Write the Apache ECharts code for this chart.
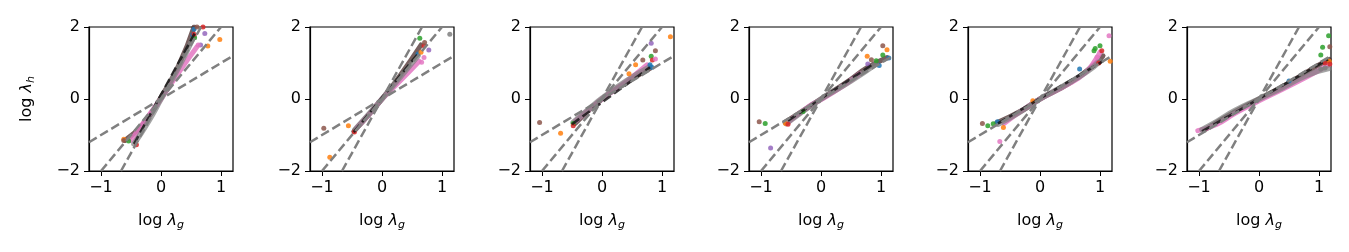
<!DOCTYPE html>
<html>
<head>
<meta charset="utf-8">
<script src="https://cdn.jsdelivr.net/npm/echarts@6/dist/echarts.min.js"></script>
<style>
  html, body { margin: 0; padding: 0; background: #fff; }
  #chart { width: 1349px; height: 252px; }
</style>
</head>
<body>
<div id="chart"></div>
<script>
// tick labels
const xTicks = [-1, 0, 1];
const yTicks = [-2, 0, 2];

// dashed reference lines, slopes 1, 2, 3 through the origin
const refSlope1 = [[-1.2, -1.2], [1.2, 1.2]];
const refSlope2 = [[-1, -2], [1, 2]];
const refSlope3 = [[-0.667, -2], [0.667, 2]];

// dense bands (one entry per panel)
const pinkBand = [
  [[-0.5, -1.15], [-0.2, -0.45], [0, 0], [0.3, 0.75], [0.6, 1.45]],
  [[-0.42, -0.8], [-0.2, -0.4], [0, 0], [0.3, 0.5], [0.62, 1.05]],
  [[-0.45, -0.62], [0, 0], [0.4, 0.48], [0.75, 0.95]],
  [[-0.55, -0.65], [-0.2, -0.2], [0, -0.02], [0.4, 0.4], [0.65, 0.7]],
  [[-0.6, -0.68], [-0.3, -0.32], [0, 0], [0.4, 0.35], [0.75, 0.72], [0.95, 1.15], [1.0, 1.3]],
  [[-1.02, -0.88], [-0.7, -0.7], [-0.4, -0.4], [0, -0.05], [0.4, 0.28], [0.8, 0.62], [1.17, 0.95]]
];
const grayBand = [
  [[-0.45, -1.25], [-0.2, -0.6], [0, 0], [0.3, 0.9], [0.55, 1.75]],
  [[-0.45, -0.85], [0, 0], [0.3, 0.6], [0.6, 1.2]],
  [[-0.48, -0.65], [-0.2, -0.25], [0, 0.02], [0.4, 0.5], [0.8, 0.9]],
  [[-0.58, -0.68], [0, 0], [0.5, 0.5], [0.9, 0.95]],
  [[-0.7, -0.7], [-0.35, -0.38], [0, 0], [0.4, 0.37], [0.8, 0.78], [1.0, 1.05]],
  [[-0.95, -0.85], [-0.7, -0.62], [-0.4, -0.32], [0, 0], [0.4, 0.32], [0.8, 0.66], [1.17, 0.85]]
];
const darkBand = [
  [[-0.6, -1.15], [-0.3, -0.7], [0, 0.05], [0.3, 0.95], [0.55, 2.0]],
  [[-0.47, -0.9], [-0.2, -0.4], [0, 0], [0.3, 0.65], [0.65, 1.5]],
  [[-0.45, -0.68], [0, 0], [0.4, 0.45], [0.8, 0.85]],
  [[-0.6, -0.65], [0, 0], [0.5, 0.55], [0.75, 0.85], [1.1, 1.15]],
  [[-0.72, -0.66], [-0.3, -0.32], [0, 0], [0.5, 0.45], [0.9, 0.95], [1.05, 1.2]],
  [[-0.9, -0.85], [-0.4, -0.35], [0, 0], [0.5, 0.45], [1.0, 0.95], [1.17, 1.1]]
];
const fitLine = [
  [[-0.45, -1.25], [0.57, 1.85]],
  [[-0.47, -0.92], [0.62, 1.3]],
  [[-0.5, -0.7], [0.8, 0.88]],
  [[-0.55, -0.6], [0.85, 0.95]],
  [[-0.7, -0.68], [1.05, 1.05]],
  [[-0.95, -0.9], [1.15, 1.1]]
];

// scattered points by colour (one entry per panel)
const blueDots = [
  [[0.55, 1.94], [0.53, 1.78]],
  [[0.6, 1.25]],
  [[0.83, 0.88], [0.8, 0.95]],
  [[1.13, 1.14], [0.97, 0.93]],
  [[-0.71, -0.63], [0.66, 0.83]],
  [[0.5, 0.5]]
];
const orangeDots = [
  [[0.98, 1.65], [0.78, 1.47], [-0.62, -1.12]],
  [[-0.56, -0.74], [-0.87, -1.62], [0.65, 1.3]],
  [[-0.69, -0.95], [1.14, 1.73], [0.56, 0.95], [0.45, 0.7]],
  [[-0.59, -0.68], [0.77, 1.19], [1.1, 1.37]],
  [[-0.61, -0.79], [1.17, 1.05], [-0.12, -0.05]],
  [[1.17, 1.05]]
];
const greenDots = [
  [[-0.54, -1.17], [0.56, 1.7]],
  [[0.63, 1.69]],
  [[-0.48, -0.68], [0.82, 1.19]],
  [[-0.93, -0.68], [1.03, 1.22], [0.92, 1.06], [-0.3, -0.35]],
  [[-0.87, -0.74], [-0.78, -0.69], [1.0, 1.48], [0.9, 1.34], [0.92, 1.4]],
  [[1.16, 1.76], [1.06, 1.44], [1.03, 1.22]]
];
const redDots = [
  [[-0.41, -1.27], [0.7, 2.0], [0.55, 1.8]],
  [[0.7, 1.48], [-0.46, -0.92]],
  [[-0.48, -0.74], [0.84, 1.08]],
  [[-0.55, -0.7]],
  [[1.03, 1.34], [0.98, 1.0]],
  [[1.18, 0.97], [1.1, 1.0]]
];
const purpleDots = [
  [[0.73, 1.82], [0.66, 1.5]],
  [[0.78, 1.36]],
  [[0.82, 1.55]],
  [[-0.84, -1.36], [0.78, 0.97]],
  [],
  []
];
const brownDots = [
  [[-0.62, -1.15], [0.6, 2.0]],
  [[-0.97, -0.81], [0.71, 1.57]],
  [[-1.04, -0.65], [0.89, 1.34], [0.68, 1.08]],
  [[-1.03, -0.63], [1.03, 1.48], [0.84, 1.09]],
  [[-0.96, -0.68]],
  [[1.18, 1.45]]
];
const pinkDots = [
  [[0.62, 1.5]],
  [[0.66, 1.02], [0.7, 1.15]],
  [[0.89, 1.11]],
  [],
  [[-0.67, -1.18], [1.15, 1.76], [0.95, 1.16]],
  []
];
const grayDots = [
  [],
  [[1.13, 1.8]],
  [],
  [],
  [],
  [[1.03, 0.83], [1.1, 0.86]]
];

const dotSets = [
  [blueDots, '#1f77b4'], [orangeDots, '#ff7f0e'], [greenDots, '#2ca02c'],
  [redDots, '#d62728'], [purpleDots, '#9467bd'], [brownDots, '#8c564b'],
  [pinkDots, '#e377c2'], [grayDots, '#7f7f7f']
];

const panelLeft = [89, 310, 530, 749, 968, 1187];
const FONT = 'DejaVu Sans';

const minus = v => (v < 0 ? '\u2212' + (-v) : String(v));

const nameRich = {
  r: { fontFamily: FONT, fontSize: 16, color: '#000', lineHeight: 18, verticalAlign: 'top' },
  i: { fontFamily: FONT, fontSize: 16, fontStyle: 'italic', color: '#000', lineHeight: 18, verticalAlign: 'top' },
  s: { fontFamily: FONT, fontSize: 11, fontStyle: 'italic', color: '#000', lineHeight: 12, padding: [10, 0, 0, 0], verticalAlign: 'bottom' }
};

const grids = [], xAxes = [], yAxes = [], series = [];

panelLeft.forEach((left, i) => {
  grids.push({
    left: left, top: 27, width: 144, height: 144,
    show: true, borderColor: '#000', borderWidth: 1.2, backgroundColor: 'transparent'
  });
  xAxes.push({
    type: 'value', gridIndex: i, min: -1.2, max: 1.2,
    name: '{r|log }{i|\u03bb}{s|g}', nameLocation: 'middle', nameGap: 42,
    nameTextStyle: { rich: nameRich },
    axisLine: { onZero: false, lineStyle: { color: '#000', width: 1.2 } },
    axisTick: { length: 5, lineStyle: { color: '#000' }, customValues: xTicks },
    axisLabel: { customValues: xTicks, formatter: minus, fontFamily: FONT, fontSize: 16, color: '#000', margin: 9 },
    splitLine: { show: false }
  });
  yAxes.push({
    type: 'value', gridIndex: i, min: -2, max: 2,
    name: i === 0 ? '{r|log }{i|\u03bb}{s|h}' : '', nameLocation: 'middle', nameGap: 52, nameRotate: 90,
    nameTextStyle: { rich: nameRich },
    axisLine: { onZero: false, lineStyle: { color: '#000', width: 1.2 } },
    axisTick: { length: 5, lineStyle: { color: '#000' }, customValues: yTicks },
    axisLabel: { customValues: yTicks, formatter: minus, fontFamily: FONT, fontSize: 16, color: '#000', margin: 9 },
    splitLine: { show: false }
  });

  const base = { xAxisIndex: i, yAxisIndex: i, silent: true, animation: false };

  // bands
  [[darkBand, '#4a2a2a', 5, 0.75], [pinkBand, '#e377c2', 5, 0.85], [grayBand, '#7f7f7f', 5.5, 0.7]].forEach(([arr, c, w, op]) => {
    series.push(Object.assign({}, base, {
      type: 'line', data: arr[i], symbol: 'none', smooth: true, z: 2,
      lineStyle: { color: c, width: w, opacity: op, cap: 'round' }
    }));
  });

  // scattered points
  dotSets.forEach(([arr, c]) => {
    series.push(Object.assign({}, base, {
      type: 'scatter', data: arr[i], symbolSize: 5, z: 3,
      itemStyle: { color: c, opacity: 0.85 }
    }));
  });

  // fitted line
  series.push(Object.assign({}, base, {
    type: 'line', data: fitLine[i], symbol: 'none', z: 4,
    lineStyle: { color: '#111', width: 2.6, opacity: 0.8, type: [9, 4] }
  }));

  // reference lines
  [refSlope1, refSlope2, refSlope3].forEach(d => {
    series.push(Object.assign({}, base, {
      type: 'line', data: d, symbol: 'none', z: 5,
      lineStyle: { color: '#808080', width: 2.5, type: [9, 4] }
    }));
  });
});

const chart = echarts.init(document.getElementById('chart'), null, { renderer: 'canvas' });
chart.setOption({
  backgroundColor: '#fff',
  animation: false,
  grid: grids,
  xAxis: xAxes,
  yAxis: yAxes,
  series: series
});
</script>
</body>
</html>
